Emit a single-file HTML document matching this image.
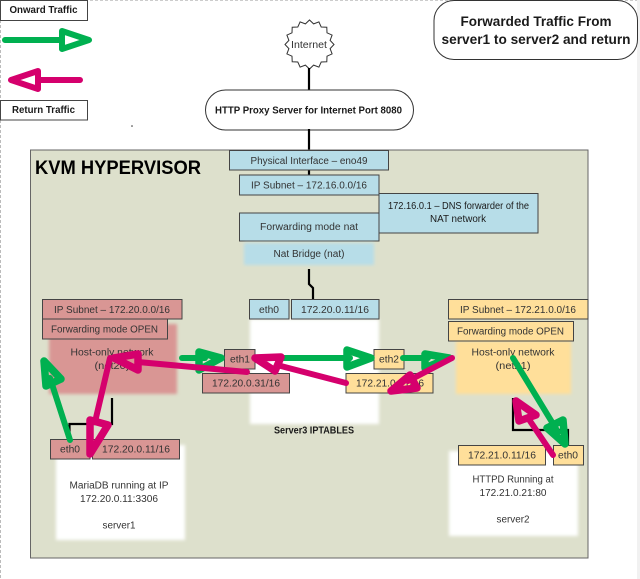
<!DOCTYPE html>
<html>
<head>
<meta charset="utf-8">
<style>
html,body{margin:0;padding:0;background:#fff;width:640px;height:579px;overflow:hidden}
svg{display:block;filter:blur(0.35px)}
text{font-family:"Liberation Sans",sans-serif;font-size:10px;fill:#333;text-anchor:middle}
.b{font-weight:bold;fill:#1a1a1a}
.box{stroke:#444;stroke-width:1}
.blue{fill:#b7dde8}.red{fill:#d99694}.yel{fill:#ffdf9a}
.wire{fill:none;stroke:#000;stroke-width:2.2}
.g{fill:none;stroke:#00b050;stroke-width:6;stroke-linecap:round;stroke-linejoin:round}
.m{fill:none;stroke:#d5006d;stroke-width:6;stroke-linecap:round;stroke-linejoin:round}
.h{stroke-width:7.5}
</style>
</head>
<body>
<svg width="640" height="579" viewBox="0 0 640 579" xmlns="http://www.w3.org/2000/svg">
<defs><filter id="s" x="-10%" y="-10%" width="120%" height="120%"><feGaussianBlur stdDeviation="1.5"/></filter></defs>
<rect x="637" y="0" width="3" height="579" fill="#f1f1f1"/>
<line x1="0" y1="0.5" x2="637" y2="0.5" stroke="#ccc" stroke-dasharray="3 2"/>
<line x1="0.5" y1="0" x2="0.5" y2="579" stroke="#bbb" stroke-dasharray="3 2"/>

<!-- Legend -->
<rect class="box" x="0.5" y="0.5" width="87" height="20" fill="#fff"/>
<text class="b" x="43.5" y="13" textLength="68" lengthAdjust="spacingAndGlyphs">Onward Traffic</text>
<rect class="box" x="0.5" y="100.5" width="87" height="19.5" fill="#fff"/>
<text class="b" x="43.5" y="113" textLength="63" lengthAdjust="spacingAndGlyphs">Return Traffic</text>
<path class="g" d="M5 40H62M62 31L89 40L62 49Z"/>
<path class="m" d="M80 80H40M38 71L11 80L38 89Z"/>
<circle cx="132" cy="126" r="0.8" fill="#333"/>

<!-- Title -->
<rect x="434" y="0.5" width="203.5" height="59" rx="20" fill="#fff" stroke="#333"/>
<text class="b" x="536" y="26" style="font-size:13.5px" textLength="151" lengthAdjust="spacingAndGlyphs">Forwarded Traffic From</text>
<text class="b" x="536" y="44" style="font-size:13.5px" textLength="189" lengthAdjust="spacingAndGlyphs">server1 to server2 and return</text>

<!-- Internet -->
<polygon transform="translate(309.5,44.5)" fill="#fff" stroke="#333" points="24.5,0 20.6,4.1 22.6,9.4 17.5,11.7 17.3,17.3 11.7,17.5 9.4,22.6 4.1,20.6 0,24.5 -4.1,20.6 -9.4,22.6 -11.7,17.5 -17.3,17.3 -17.5,11.7 -22.6,9.4 -20.6,4.1 -24.5,0 -20.6,-4.1 -22.6,-9.4 -17.5,-11.7 -17.3,-17.3 -11.7,-17.5 -9.4,-22.6 -4.1,-20.6 0,-24.5 4.1,-20.6 9.4,-22.6 11.7,-17.5 17.3,-17.3 17.5,-11.7 22.6,-9.4 20.6,-4.1"/>
<text x="309" y="48" textLength="36" lengthAdjust="spacingAndGlyphs">Internet</text>
<line class="wire" x1="309" y1="68" x2="309" y2="90"/>

<!-- Proxy -->
<rect x="205.5" y="90" width="208" height="40" rx="20" fill="#fff" stroke="#333"/>
<text class="b" x="308.5" y="113.5" textLength="187" lengthAdjust="spacingAndGlyphs">HTTP Proxy Server for Internet Port 8080</text>
<line class="wire" x1="309" y1="129" x2="309" y2="150"/>

<!-- Hypervisor -->
<rect x="30.5" y="150" width="557.5" height="408" fill="#dde0cc" stroke="#666"/>
<text class="b" x="118" y="174" style="font-size:19px;fill:#000" textLength="166" lengthAdjust="spacingAndGlyphs">KVM HYPERVISOR</text>
<line class="wire" x1="309" y1="168" x2="309" y2="176"/>

<!-- NAT stack -->
<rect class="box blue" x="229.5" y="150.5" width="159" height="19.5"/>
<text x="309" y="164" textLength="117" lengthAdjust="spacingAndGlyphs">Physical Interface – eno49</text>
<rect class="box blue" x="239.5" y="175" width="139.5" height="20"/>
<text x="309" y="188.5" textLength="116" lengthAdjust="spacingAndGlyphs">IP Subnet – 172.16.0.0/16</text>
<rect class="box blue" x="379" y="193.5" width="159" height="39.5"/>
<text x="458.5" y="209" class="b" style="font-weight:normal" textLength="141" lengthAdjust="spacingAndGlyphs">172.16.0.1 – DNS forwarder of the</text>
<text x="458" y="222" class="b" style="font-weight:normal" textLength="56" lengthAdjust="spacingAndGlyphs">NAT network</text>
<rect class="box blue" x="239.5" y="213" width="139.5" height="28"/>
<text x="309" y="230" textLength="98" lengthAdjust="spacingAndGlyphs">Forwarding mode nat</text>
<rect class="blue" x="244" y="243" width="130" height="22" filter="url(#s)"/>
<text x="309" y="257" textLength="71" lengthAdjust="spacingAndGlyphs">Nat Bridge (nat)</text>
<path class="wire" d="M309 269V284L313 288V300"/>

<!-- Server 3 -->
<rect x="250" y="319" width="129" height="105" fill="#fff" filter="url(#s)"/>
<rect class="box blue" x="249.5" y="299.5" width="39.5" height="19.5"/>
<text x="269" y="313" textLength="20" lengthAdjust="spacingAndGlyphs">eth0</text>
<rect class="box blue" x="291.5" y="299.5" width="87.5" height="19.5"/>
<text x="335" y="313" textLength="68" lengthAdjust="spacingAndGlyphs">172.20.0.11/16</text>
<text class="b" x="314" y="433.5" textLength="80" lengthAdjust="spacingAndGlyphs">Server3 IPTABLES</text>

<!-- Left network -->
<rect class="red" x="49" y="324" width="128" height="70" filter="url(#s)"/>
<rect class="box red" x="42.5" y="299.5" width="139.5" height="19.5"/>
<text x="112" y="313" textLength="116" lengthAdjust="spacingAndGlyphs">IP Subnet – 172.20.0.0/16</text>
<rect class="box red" x="42.5" y="319" width="125" height="20"/>
<text x="104.5" y="332.5" textLength="107" lengthAdjust="spacingAndGlyphs">Forwarding mode OPEN</text>
<text x="112" y="355.5" textLength="83" lengthAdjust="spacingAndGlyphs">Host-only network</text>
<text x="112" y="369" textLength="35" lengthAdjust="spacingAndGlyphs">(net20)</text>
<path class="wire" d="M112 398V424H69.5V439"/>

<!-- Server 1 -->
<rect x="56" y="445" width="129" height="95" fill="#fff" filter="url(#s)"/>
<rect class="box red" x="50.5" y="439.5" width="39.5" height="19.5"/>
<text x="70" y="452.5" textLength="20" lengthAdjust="spacingAndGlyphs">eth0</text>
<rect class="box red" x="92.5" y="439.5" width="87" height="19.5"/>
<text x="136" y="452.5" textLength="68" lengthAdjust="spacingAndGlyphs">172.20.0.11/16</text>
<text x="119" y="488.5" textLength="99" lengthAdjust="spacingAndGlyphs">MariaDB running at IP</text>
<text x="119" y="502" textLength="78" lengthAdjust="spacingAndGlyphs">172.20.0.11:3306</text>
<text x="119" y="528.5" textLength="33" lengthAdjust="spacingAndGlyphs">server1</text>

<!-- eth1 / eth2 -->
<rect class="box red" x="224.5" y="349.5" width="30.5" height="19.5"/>
<text x="240" y="362.5" textLength="20" lengthAdjust="spacingAndGlyphs">eth1</text>
<rect class="box red" x="202.5" y="373.5" width="87" height="19.5"/>
<text x="246" y="386.5" textLength="68" lengthAdjust="spacingAndGlyphs">172.20.0.31/16</text>
<rect class="box yel" x="374" y="349.5" width="30" height="19.5"/>
<text x="389" y="362.5" textLength="20" lengthAdjust="spacingAndGlyphs">eth2</text>
<rect class="box yel" x="346" y="373.5" width="87" height="19.5"/>
<text x="390" y="386.5" textLength="68" lengthAdjust="spacingAndGlyphs">172.21.0.31/16</text>

<!-- Right network -->
<rect class="yel" x="456" y="341" width="115" height="53" filter="url(#s)"/>
<rect class="box yel" x="448.5" y="299.5" width="139.5" height="19.5"/>
<text x="518" y="313" textLength="116" lengthAdjust="spacingAndGlyphs">IP Subnet – 172.21.0.0/16</text>
<rect class="box yel" x="448.5" y="321.5" width="125" height="19.5"/>
<text x="510.5" y="334.5" textLength="107" lengthAdjust="spacingAndGlyphs">Forwarding mode OPEN</text>
<text x="513" y="355.5" textLength="83" lengthAdjust="spacingAndGlyphs">Host-only network</text>
<text x="513" y="369" textLength="35" lengthAdjust="spacingAndGlyphs">(net21)</text>
<path class="wire" d="M513 398V430H568V445"/>

<!-- Server 2 -->
<rect x="449" y="451" width="129" height="85" fill="#fff" filter="url(#s)"/>
<rect class="box yel" x="458.5" y="445.5" width="87" height="19.5"/>
<text x="502" y="458.5" textLength="68" lengthAdjust="spacingAndGlyphs">172.21.0.11/16</text>
<rect class="box yel" x="553.5" y="445.5" width="30" height="19.5"/>
<text x="568" y="458.5" textLength="20" lengthAdjust="spacingAndGlyphs">eth0</text>
<text x="513" y="482.5" textLength="81" lengthAdjust="spacingAndGlyphs">HTTPD Running at</text>
<text x="513" y="496" textLength="67" lengthAdjust="spacingAndGlyphs">172.21.0.21:80</text>
<text x="513" y="522.5" textLength="33" lengthAdjust="spacingAndGlyphs">server2</text>

<!-- Green arrows -->
<path class="g" d="M70 440L50 378"/><path class="g h" d="M44 361L61 379L46 386Z"/>
<path class="g" d="M182 358H205"/><path class="g h" d="M221 358L199 352L199 370Z"/>
<path class="g" d="M283 358H350"/><path class="g h" d="M371 358L347 350L347 367Z"/>
<path class="g" d="M403 358H428"/><path class="g h" d="M449 358L425 354L425 368Z"/>
<path class="g" d="M513 358L558 432"/><path class="g h" d="M565 444L547 428L563 420Z"/>

<!-- Magenta arrows -->
<path class="m" d="M247 372L138 362"/><path class="m h" d="M114 358L138 354L138 370Z"/>
<path class="m" d="M110 358L95 422"/><path class="m h" d="M90 454L90 420L108 425Z"/>
<path class="m" d="M346 383L277 365"/><path class="m h" d="M255 358L281 357L275 371Z"/>
<path class="m" d="M452 358L408 381"/><path class="m h" d="M391 391L410 375L417 388Z"/>
<path class="m" d="M553 455L528 418"/><path class="m h" d="M516 401L536 415L519 421Z"/>
</svg>
</body>
</html>
